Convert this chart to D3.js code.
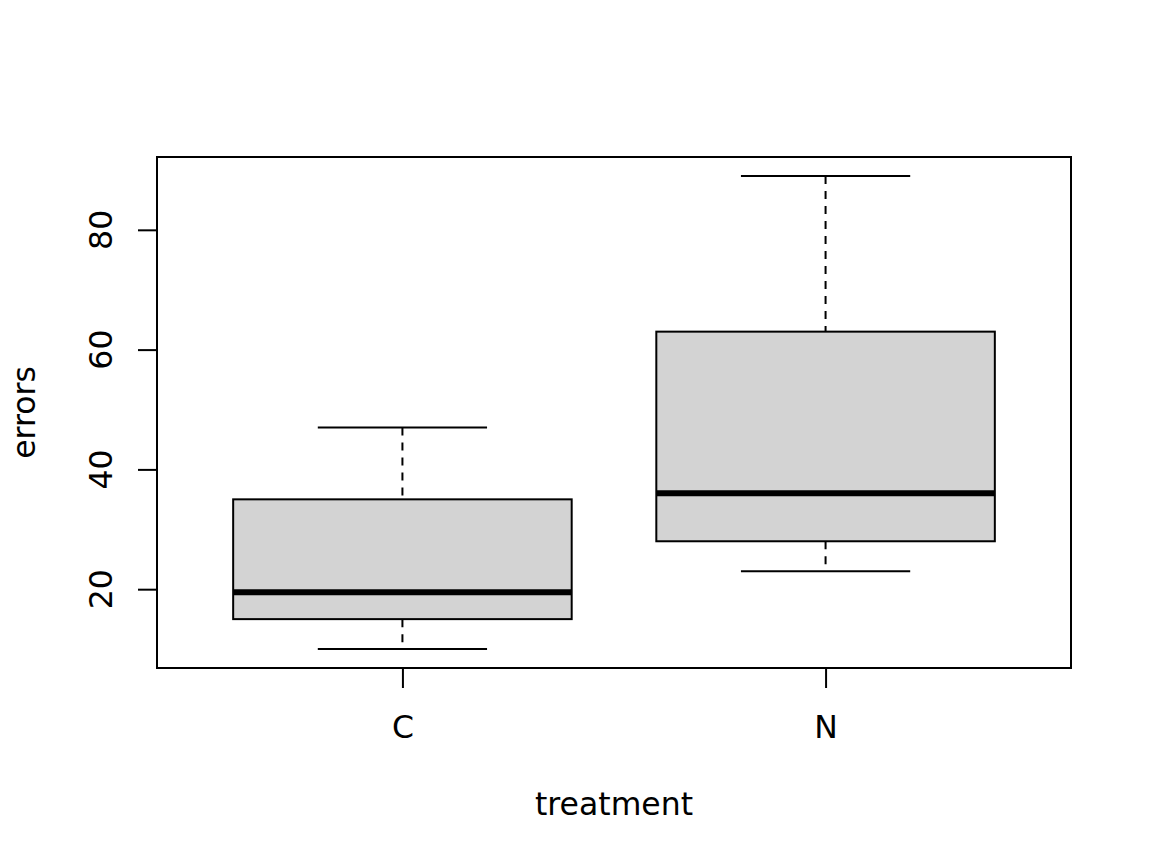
<!DOCTYPE html>
<html>
<head>
<meta charset="utf-8">
<script src="https://cdn.jsdelivr.net/npm/d3@7"></script>
<style>
  body { margin: 0; background: #fff; }
  text { font-family: "DejaVu Sans", sans-serif; fill: #000; }
</style>
</head>
<body>
<svg id="chart" width="1152" height="865"></svg>
<script>
// box stats
const groups = ["C", "N"];
const whiskerLow = [10, 23];
const q1 = [15, 28];
const medians = [19.5, 36];
const q3 = [35, 63];
const whiskerHigh = [47, 89];
const yTicks = [20, 40, 60, 80];

const margin = {top: 157, right: 81, bottom: 197, left: 157};
const width = 1152, height = 865;

let svg = d3.select("#chart");

// R pads the range by 4% each side
let lo = d3.min(whiskerLow), hi = d3.max(whiskerHigh);
let pad = (hi - lo) * 0.04;
let y = d3.scaleLinear()
    .domain([lo - pad, hi + pad])
    .range([height - margin.bottom, margin.top]);

let x = d3.scaleLinear()
    .domain([0.42, 2.58])
    .range([margin.left, width - margin.right]);

let boxes = groups.map(function(g, i){
    return {name: g, pos: i + 1, lo: whiskerLow[i], q1: q1[i], med: medians[i], q3: q3[i], hi: whiskerHigh[i]};
});

let halfBox = (x(1.4) - x(1)) ;
let halfStaple = (x(1.2) - x(1));

let g = svg.selectAll("g.box").data(boxes).enter().append("g").attr("class", "box");

// dashed whiskers
g.append("line")
    .attr("x1", d => x(d.pos)).attr("x2", d => x(d.pos))
    .attr("y1", d => y(d.hi)).attr("y2", d => y(d.q3))
    .attr("stroke", "#000").attr("stroke-width", 2).attr("stroke-dasharray", "8,7");
g.append("line")
    .attr("x1", d => x(d.pos)).attr("x2", d => x(d.pos))
    .attr("y1", d => y(d.q1)).attr("y2", d => y(d.lo))
    .attr("stroke", "#000").attr("stroke-width", 2).attr("stroke-dasharray", "8,7");

// staples
g.append("line")
    .attr("x1", d => x(d.pos) - halfStaple).attr("x2", d => x(d.pos) + halfStaple)
    .attr("y1", d => y(d.hi)).attr("y2", d => y(d.hi))
    .attr("stroke", "#000").attr("stroke-width", 2);
g.append("line")
    .attr("x1", d => x(d.pos) - halfStaple).attr("x2", d => x(d.pos) + halfStaple)
    .attr("y1", d => y(d.lo)).attr("y2", d => y(d.lo))
    .attr("stroke", "#000").attr("stroke-width", 2);

// boxes
g.append("rect")
    .attr("x", d => x(d.pos) - halfBox)
    .attr("width", 2 * halfBox)
    .attr("y", d => y(d.q3))
    .attr("height", d => y(d.q1) - y(d.q3))
    .attr("fill", "#d3d3d3").attr("stroke", "#000").attr("stroke-width", 2);

// medians
g.append("line")
    .attr("x1", d => x(d.pos) - halfBox).attr("x2", d => x(d.pos) + halfBox)
    .attr("y1", d => y(d.med)).attr("y2", d => y(d.med))
    .attr("stroke", "#000").attr("stroke-width", 6);

// plot frame
svg.append("rect")
    .attr("x", margin.left).attr("y", margin.top)
    .attr("width", width - margin.left - margin.right)
    .attr("height", height - margin.top - margin.bottom)
    .attr("fill", "none").attr("stroke", "#000").attr("stroke-width", 2);

// y axis
let yAxis = svg.append("g")
    .attr("transform", "translate(" + margin.left + ",0)")
    .call(d3.axisLeft(y).tickValues(yTicks).tickSize(19).tickFormat(d3.format("d")));
yAxis.select(".domain").remove();
yAxis.selectAll("line").attr("stroke", "#000").attr("stroke-width", 2);
yAxis.selectAll("text").remove();
svg.selectAll("text.ytick").data(yTicks).enter().append("text")
    .attr("class", "ytick")
    .attr("transform", d => "translate(112," + y(d) + ") rotate(-90)")
    .attr("text-anchor", "middle")
    .style("font-size", "31.5px")
    .text(d => d);

// x axis
let xAxis = svg.append("g")
    .attr("transform", "translate(0," + (height - margin.bottom) + ")")
    .call(d3.axisBottom(x).tickValues(boxes.map(d => d.pos)).tickSize(20).tickFormat((d, i) => groups[i]));
xAxis.select(".domain").remove();
xAxis.selectAll("line").attr("stroke", "#000").attr("stroke-width", 2);
xAxis.selectAll("text")
    .attr("y", 0).attr("dy", null)
    .attr("transform", "translate(0,70)")
    .style("font-size", "31.5px")
    .attr("fill", "#000");

// axis titles
svg.append("text")
    .attr("x", (margin.left + width - margin.right) / 2)
    .attr("y", 815)
    .attr("text-anchor", "middle")
    .style("font-size", "31.5px")
    .text("treatment");

svg.append("text")
    .attr("transform", "translate(35," + ((margin.top + height - margin.bottom) / 2) + ") rotate(-90)")
    .attr("text-anchor", "middle")
    .style("font-size", "31.5px")
    .text("errors");
</script>
</body>
</html>
